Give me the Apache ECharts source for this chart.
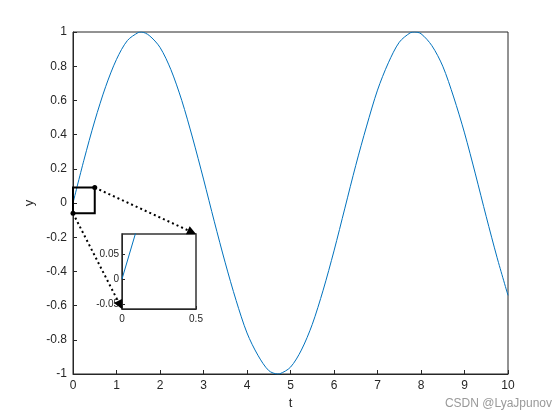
<!DOCTYPE html>
<html>
<head>
<meta charset="utf-8">
<script src="https://cdn.jsdelivr.net/npm/echarts@6/dist/echarts.min.js"></script>
<style>html,body{margin:0;background:#fff}#c{width:560px;height:420px}</style>
</head>
<body>
<div id="c"></div>
<script>
var chart = echarts.init(document.getElementById('c'));
// y = sin(t), every 0.25 plus the turning points
var tValues = [0,0.25,0.5,0.75,1,1.25,1.5,1.57,1.75,2,2.25,2.5,2.75,3,3.25,3.5,3.75,4,4.25,4.5,4.71,4.75,5,5.25,5.5,5.75,6,6.25,6.5,6.75,7,7.25,7.5,7.75,7.85,8,8.25,8.5,8.75,9,9.25,9.5,9.75,10];
var yValues = [0,0.25,0.48,0.68,0.84,0.95,0.997,1.0,0.98,0.91,0.78,0.6,0.38,0.14,-0.11,-0.35,-0.57,-0.76,-0.89,-0.98,-1.0,-0.999,-0.96,-0.86,-0.71,-0.51,-0.28,-0.03,0.22,0.45,0.66,0.82,0.94,0.995,1.0,0.99,0.92,0.8,0.62,0.41,0.17,-0.08,-0.32,-0.54];
var zoomT = [0, 0.5];
var zoomY = [-0.06, 0.09];
var insetT = [0, 0.05, 0.1];
var insetY = [0, 0.05, 0.1];
var insetYTicks = [-0.05, 0, 0.05];
var insetTTicks = [0, 0.5];

var mainData = tValues.map(function (t, i) { return [t, yValues[i]]; });
var insetData = insetT.map(function (t, i) { return [t, insetY[i]]; });
var font = 'Liberation Sans, Arial, sans-serif';
var ax = '#262626';

function axisBase(extra) {
    var o = {
        type: 'value',
        axisLine: { show: true, onZero: false, lineStyle: { color: ax } },
        axisTick: { show: true, inside: true, length: 4, lineStyle: { color: ax } },
        axisLabel: { color: ax, fontSize: 11, fontFamily: font, margin: 6 },
        splitLine: { show: false }
    };
    for (var k in extra) o[k] = extra[k];
    return o;
}

var option = {
    animation: false,
    grid: [
        { left: 73, right: 52, top: 32, bottom: 46, show: true, borderColor: ax, borderWidth: 1 },
        { left: 122, top: 234, width: 74, height: 75, show: true, borderColor: '#333', borderWidth: 1.5, backgroundColor: '#fff', z: 10 }
    ],
    xAxis: [
        axisBase({ gridIndex: 0, min: 0, max: 10, interval: 1, name: 't', nameLocation: 'middle', nameGap: 22,
            axisLabel: { color: ax, fontSize: 12, fontFamily: font, margin: 6 },
            nameTextStyle: { color: ax, fontSize: 13, fontFamily: font } }),
        axisBase({ gridIndex: 1, min: zoomT[0], max: zoomT[1], z: 10,
            axisTick: { show: true, inside: true, length: 3, customValues: insetTTicks, lineStyle: { color: ax } },
            axisLabel: { color: ax, fontSize: 10, fontFamily: font, margin: 5, customValues: insetTTicks } })
    ],
    yAxis: [
        axisBase({ gridIndex: 0, min: -1, max: 1, interval: 0.2, name: 'y', nameLocation: 'middle', nameGap: 34,
            nameTextStyle: { color: ax, fontSize: 13, fontFamily: font },
            axisLabel: { color: ax, fontSize: 12, fontFamily: font, margin: 6,
                formatter: function (v) { return Math.round(v * 10) / 10 + ''; } } }),
        axisBase({ gridIndex: 1, min: zoomY[0], max: zoomY[1], z: 10,
            axisTick: { show: true, inside: true, length: 3, customValues: insetYTicks, lineStyle: { color: ax } },
            axisLabel: { color: ax, fontSize: 10, fontFamily: font, margin: 3, customValues: insetYTicks,
                formatter: function (v) { return Math.abs(v) < 1e-9 ? '0' : Math.round(v * 100) / 100 + ''; } } })
    ],
    series: [
        { type: 'line', xAxisIndex: 0, yAxisIndex: 0, data: mainData, smooth: 0.3, showSymbol: false,
            lineStyle: { color: '#0072bd', width: 1 }, z: 2 },
        { type: 'line', xAxisIndex: 1, yAxisIndex: 1, data: insetData, showSymbol: false, clip: true,
            lineStyle: { color: '#0072bd', width: 1 }, z: 11 }
    ]
};
chart.setOption(option);

// zoom box and arrows
var p0 = chart.convertToPixel({ gridIndex: 0 }, [zoomT[0], zoomY[1]]);
var p1 = chart.convertToPixel({ gridIndex: 0 }, [zoomT[1], zoomY[0]]);
var q0 = chart.convertToPixel({ gridIndex: 1 }, [zoomT[1], zoomY[1]]);
var q1 = chart.convertToPixel({ gridIndex: 1 }, [zoomT[0], zoomY[0]]);

function arrow(a, b) {
    var dx = b[0] - a[0], dy = b[1] - a[1], L = Math.sqrt(dx * dx + dy * dy);
    var ux = dx / L, uy = dy / L, h = 9, w = 4.5;
    var bx = b[0] - ux * h, by = b[1] - uy * h;
    return [
        { type: 'line', shape: { x1: a[0], y1: a[1], x2: bx, y2: by },
            style: { stroke: '#000', lineWidth: 2, lineDash: [2, 3] }, z: 20 },
        { type: 'circle', shape: { cx: a[0], cy: a[1], r: 2.5 }, style: { fill: '#000' }, z: 20 },
        { type: 'polygon', shape: { points: [[b[0], b[1]], [bx - uy * w, by + ux * w], [bx + uy * w, by - ux * w]] },
            style: { fill: '#000' }, z: 20 }
    ];
}

var g = [
    { type: 'rect', shape: { x: p0[0], y: p0[1], width: p1[0] - p0[0], height: p1[1] - p0[1] },
        style: { fill: 'none', stroke: '#000', lineWidth: 2 }, z: 20 },
    { type: 'text', right: 8, bottom: 10, style: { text: 'CSDN @LyaJpunov', fill: '#999', fontSize: 12, fontFamily: font }, z: 30 }
];
g = g.concat(arrow([p1[0], p0[1]], q0), arrow([p0[0], p1[1]], q1));
chart.setOption({ graphic: g });
window.onresize = chart.resize;
</script>
</body>
</html>
